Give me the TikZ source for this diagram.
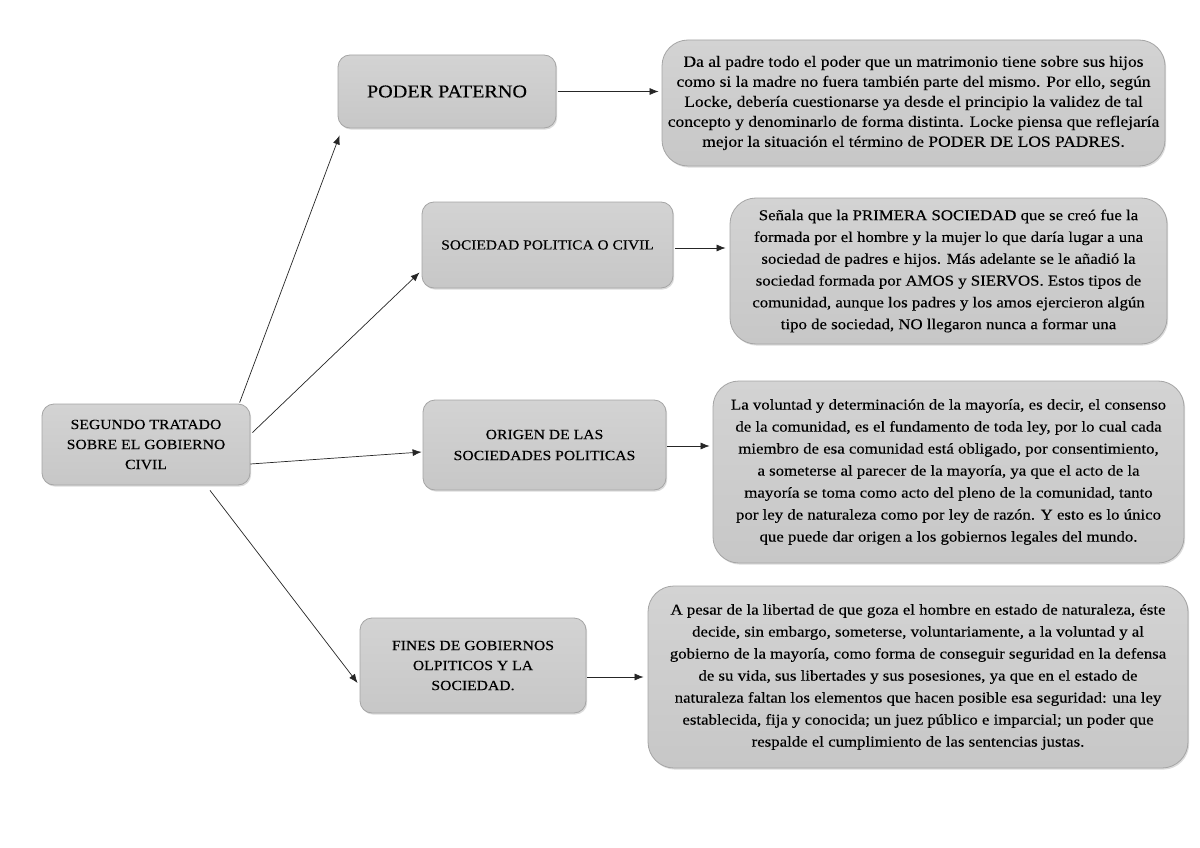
\documentclass[tikz,border=0pt]{standalone}
\usepackage{fontspec}
\setmainfont{Liberation Serif}[FakeStretch=1.12, FakeBold=0.3]
\usetikzlibrary{shadows,calc,arrows.meta}
\definecolor{boxtop}{RGB}{211,211,211}
\definecolor{boxbot}{RGB}{199,199,199}
\definecolor{boxedge}{RGB}{165,165,165}
\tikzset{
  boxbase/.style={draw=boxedge, line width=0.8pt, top color=boxtop, bottom color=boxbot,
    drop shadow={shadow xshift=1.2pt, shadow yshift=-1.6pt, opacity=0.14, fill=black},
    align=center, inner sep=0pt},
  topic/.style={boxbase, rounded corners=12pt},
  infobox/.style={boxbase, rounded corners=26pt, font=\fontsize{15}{21}\selectfont},
  link/.style={draw=black!85, line width=0.7pt, -{Latex[length=9pt,width=7pt]}},
}
\begin{document}
\begin{tikzpicture}[x=1pt,y=-1pt]
\useasboundingbox[fill=white] (0,0) rectangle (1200,848);

\node[topic, minimum width=208pt, minimum height=81pt, font=\fontsize{14}{20}\selectfont] (main) at (146,444.5)
  {SEGUNDO TRATADO\\SOBRE EL GOBIERNO\\CIVIL};
\node[topic, minimum width=218pt, minimum height=73pt, font=\fontsize{18}{22}\selectfont] (poder) at (447,91.5)
  {PODER PATERNO};
\node[topic, minimum width=251pt, minimum height=86pt, font=\fontsize{13.8}{20}\selectfont] (soc) at (547.5,245)
  {SOCIEDAD POLITICA O CIVIL};
\node[topic, minimum width=243pt, minimum height=90pt, font=\fontsize{14}{21}\selectfont] (orig) at (544.5,445)
  {ORIGEN DE LAS\\SOCIEDADES POLITICAS};
\node[topic, minimum width=226pt, minimum height=95pt, font=\fontsize{14}{20}\selectfont] (fines) at (473,665.5)
  {FINES DE GOBIERNOS\\OLPITICOS Y LA\\SOCIEDAD.};

\node[infobox, minimum width=503pt, minimum height=126pt, font=\fontsize{15.6}{20}\selectfont] (tb1) at (913.5,103)
  {Da al padre todo el poder que un matrimonio tiene sobre sus hijos\\
   como si la madre no fuera también parte del mismo. Por ello, según\\
   Locke, debería cuestionarse ya desde el principio la validez de tal\\
   concepto y denominarlo de forma distinta. Locke piensa que reflejaría\\
   mejor la situación el término de PODER DE LOS PADRES.};
\node[infobox, minimum width=437pt, minimum height=146pt, font=\fontsize{15}{21.8}\selectfont] (tb2) at (948.5,271)
  {Señala que la PRIMERA SOCIEDAD que se creó fue la\\
   formada por el hombre y la mujer lo que daría lugar a una\\
   sociedad de padres e hijos. Más adelante se le añadió la\\
   sociedad formada por AMOS y SIERVOS. Estos tipos de\\
   comunidad, aunque los padres y los amos ejercieron algún\\
   tipo de sociedad, NO llegaron nunca a formar una};
\node[infobox, minimum width=471pt, minimum height=182pt, font=\fontsize{15}{22}\selectfont] (tb3) at (948.5,472)
  {La voluntad y determinación de la mayoría, es decir, el consenso\\
   de la comunidad, es el fundamento de toda ley, por lo cual cada\\
   miembro de esa comunidad está obligado, por consentimiento,\\
   a someterse al parecer de la mayoría, ya que el acto de la\\
   mayoría se toma como acto del pleno de la comunidad, tanto\\
   por ley de naturaleza como por ley de razón. Y esto es lo único\\
   que puede dar origen a los gobiernos legales del mundo.};
\node[infobox, minimum width=540pt, minimum height=182pt, font=\fontsize{15}{22}\selectfont] (tb4) at (918,677)
  {A pesar de la libertad de que goza el hombre en estado de naturaleza, éste\\
   decide, sin embargo, someterse, voluntariamente, a la voluntad y al\\
   gobierno de la mayoría, como forma de conseguir seguridad en la defensa\\
   de su vida, sus libertades y sus posesiones, ya que en el estado de\\
   naturaleza faltan los elementos que hacen posible esa seguridad: una ley\\
   establecida, fija y conocida; un juez público e imparcial; un poder que\\
   respalde el cumplimiento de las sentencias justas.};

\draw[link] ($(main.north west)+(198,-1)$) -- ($(poder.south west)+(2,7)$);
\draw[link] ($(main.north east)+(2,29)$) -- ($(soc.south west)+(-2,-16)$);
\draw[link] ($(main.east)+(0,19.5)$) -- ($(orig.west)+(-1,7)$);
\draw[link] ($(main.south)+(64,5)$) -- ($(fines.west)+(-2,17.5)$);

\draw[link] ($(poder.east)+(2,0)$) -- ($(poder.east -| tb1.west)+(-3,0)$);
\draw[link] ($(soc.east)+(2,3)$) -- ($(soc.east -| tb2.west)+(-4,3)$);
\draw[link] ($(orig.east)+(1,1)$) -- ($(orig.east -| tb3.west)+(-3,1)$);
\draw[link] ($(fines.east)+(1,11.5)$) -- ($(fines.east -| tb4.west)+(-4,11.5)$);
\end{tikzpicture}
\end{document}
